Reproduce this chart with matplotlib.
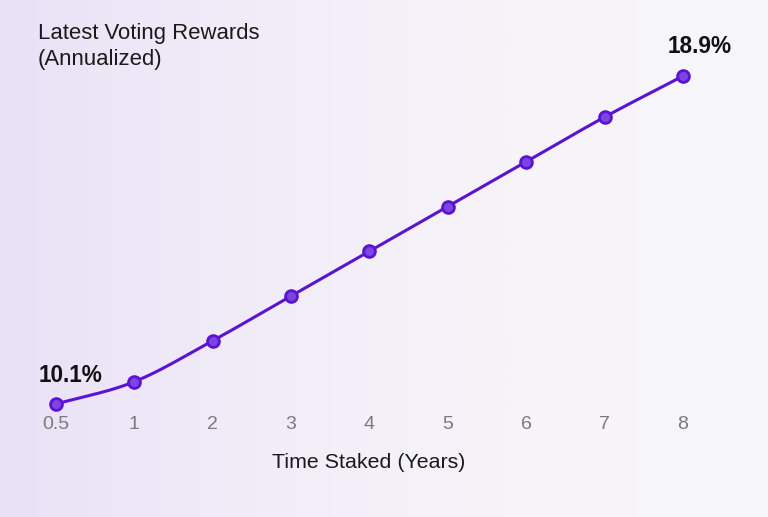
import numpy as np
import matplotlib.pyplot as plt
from matplotlib.colors import LinearSegmentedColormap

plt.rcParams['font.family'] = ['Liberation Sans', 'DejaVu Sans']

# data
years = ['0.5', '1', '2', '3', '4', '5', '6', '7', '8']
reward = [10.1, 10.7, 11.8, 13.0, 14.2, 15.4, 16.6, 17.8, 18.9]

line_color = '#5a12d8'
marker_face = '#7b45e2'

fig = plt.figure(figsize=(7.68, 5.17), dpi=100)
ax = fig.add_axes([0, 0, 1, 1])

# background gradient (lavender on the left fading to near white)
bg = LinearSegmentedColormap.from_list('bg', ['#e9e1f6', '#f1edf8', '#f6f4f9', '#f7f6f9'])
grad = np.linspace(0, 1, 256).reshape(1, -1)
ax.imshow(grad, cmap=bg, aspect='auto', extent=[-0.7145, 9.085, 7.07, 20.94],
          zorder=0, interpolation='bicubic')

x = np.arange(len(years))
y = np.array(reward)

# smooth the connecting line with a Catmull-Rom spline through the points
xs, ys = [], []
pts_x = np.concatenate([[x[0] - (x[1] - x[0])], x, [x[-1] + (x[-1] - x[-2])]])
pts_y = np.concatenate([[y[0] - (y[1] - y[0])], y, [y[-1] + (y[-1] - y[-2])]])
for i in range(1, len(pts_x) - 2):
    t = np.linspace(0, 1, 30)
    p0, p1, p2, p3 = [np.array([pts_x[j], pts_y[j]]) for j in range(i - 1, i + 3)]
    tt = t[:, None]
    seg = 0.5 * ((2 * p1) + (-p0 + p2) * tt + (2 * p0 - 5 * p1 + 4 * p2 - p3) * tt ** 2
                 + (-p0 + 3 * p1 - 3 * p2 + p3) * tt ** 3)
    xs.extend(seg[:, 0])
    ys.extend(seg[:, 1])

ax.plot(xs, ys, color=line_color, lw=2.2, zorder=2, solid_capstyle='round')
ax.plot(x, y, 'o', ms=8.5, mfc=marker_face, mec=line_color, mew=2, zorder=3)

ax.set_xlim(-0.7145, 9.085)
ax.set_ylim(7.07, 20.94)
ax.axis('off')

# tick labels
for xi, lab in zip(x, years):
    ax.text(xi, 9.56, lab, ha='center', va='center', fontsize=14, color='#7a7a7e')

# end value labels
ax.text(x[0] + 0.19, y[0] + 0.76, '10.1%', ha='center', va='center', fontsize=16.3,
        fontweight='bold', color='#111111')
ax.text(x[-1] + 0.21, y[-1] + 0.80, '18.9%', ha='center', va='center', fontsize=16.3,
        fontweight='bold', color='#111111')

fig.text(38 / 768, 1 - 33 / 517, 'Latest Voting Rewards', ha='left', va='center',
         fontsize=15.9, color='#1a1a1a')
fig.text(38 / 768, 1 - 59 / 517, '(Annualized)', ha='left', va='center',
         fontsize=15.9, color='#1a1a1a')
fig.text(369 / 768, 1 - 462 / 517, 'Time Staked (Years)', ha='center', va='center',
         fontsize=15.4, color='#1a1a1a')

fig.savefig('out.png', dpi=100)
